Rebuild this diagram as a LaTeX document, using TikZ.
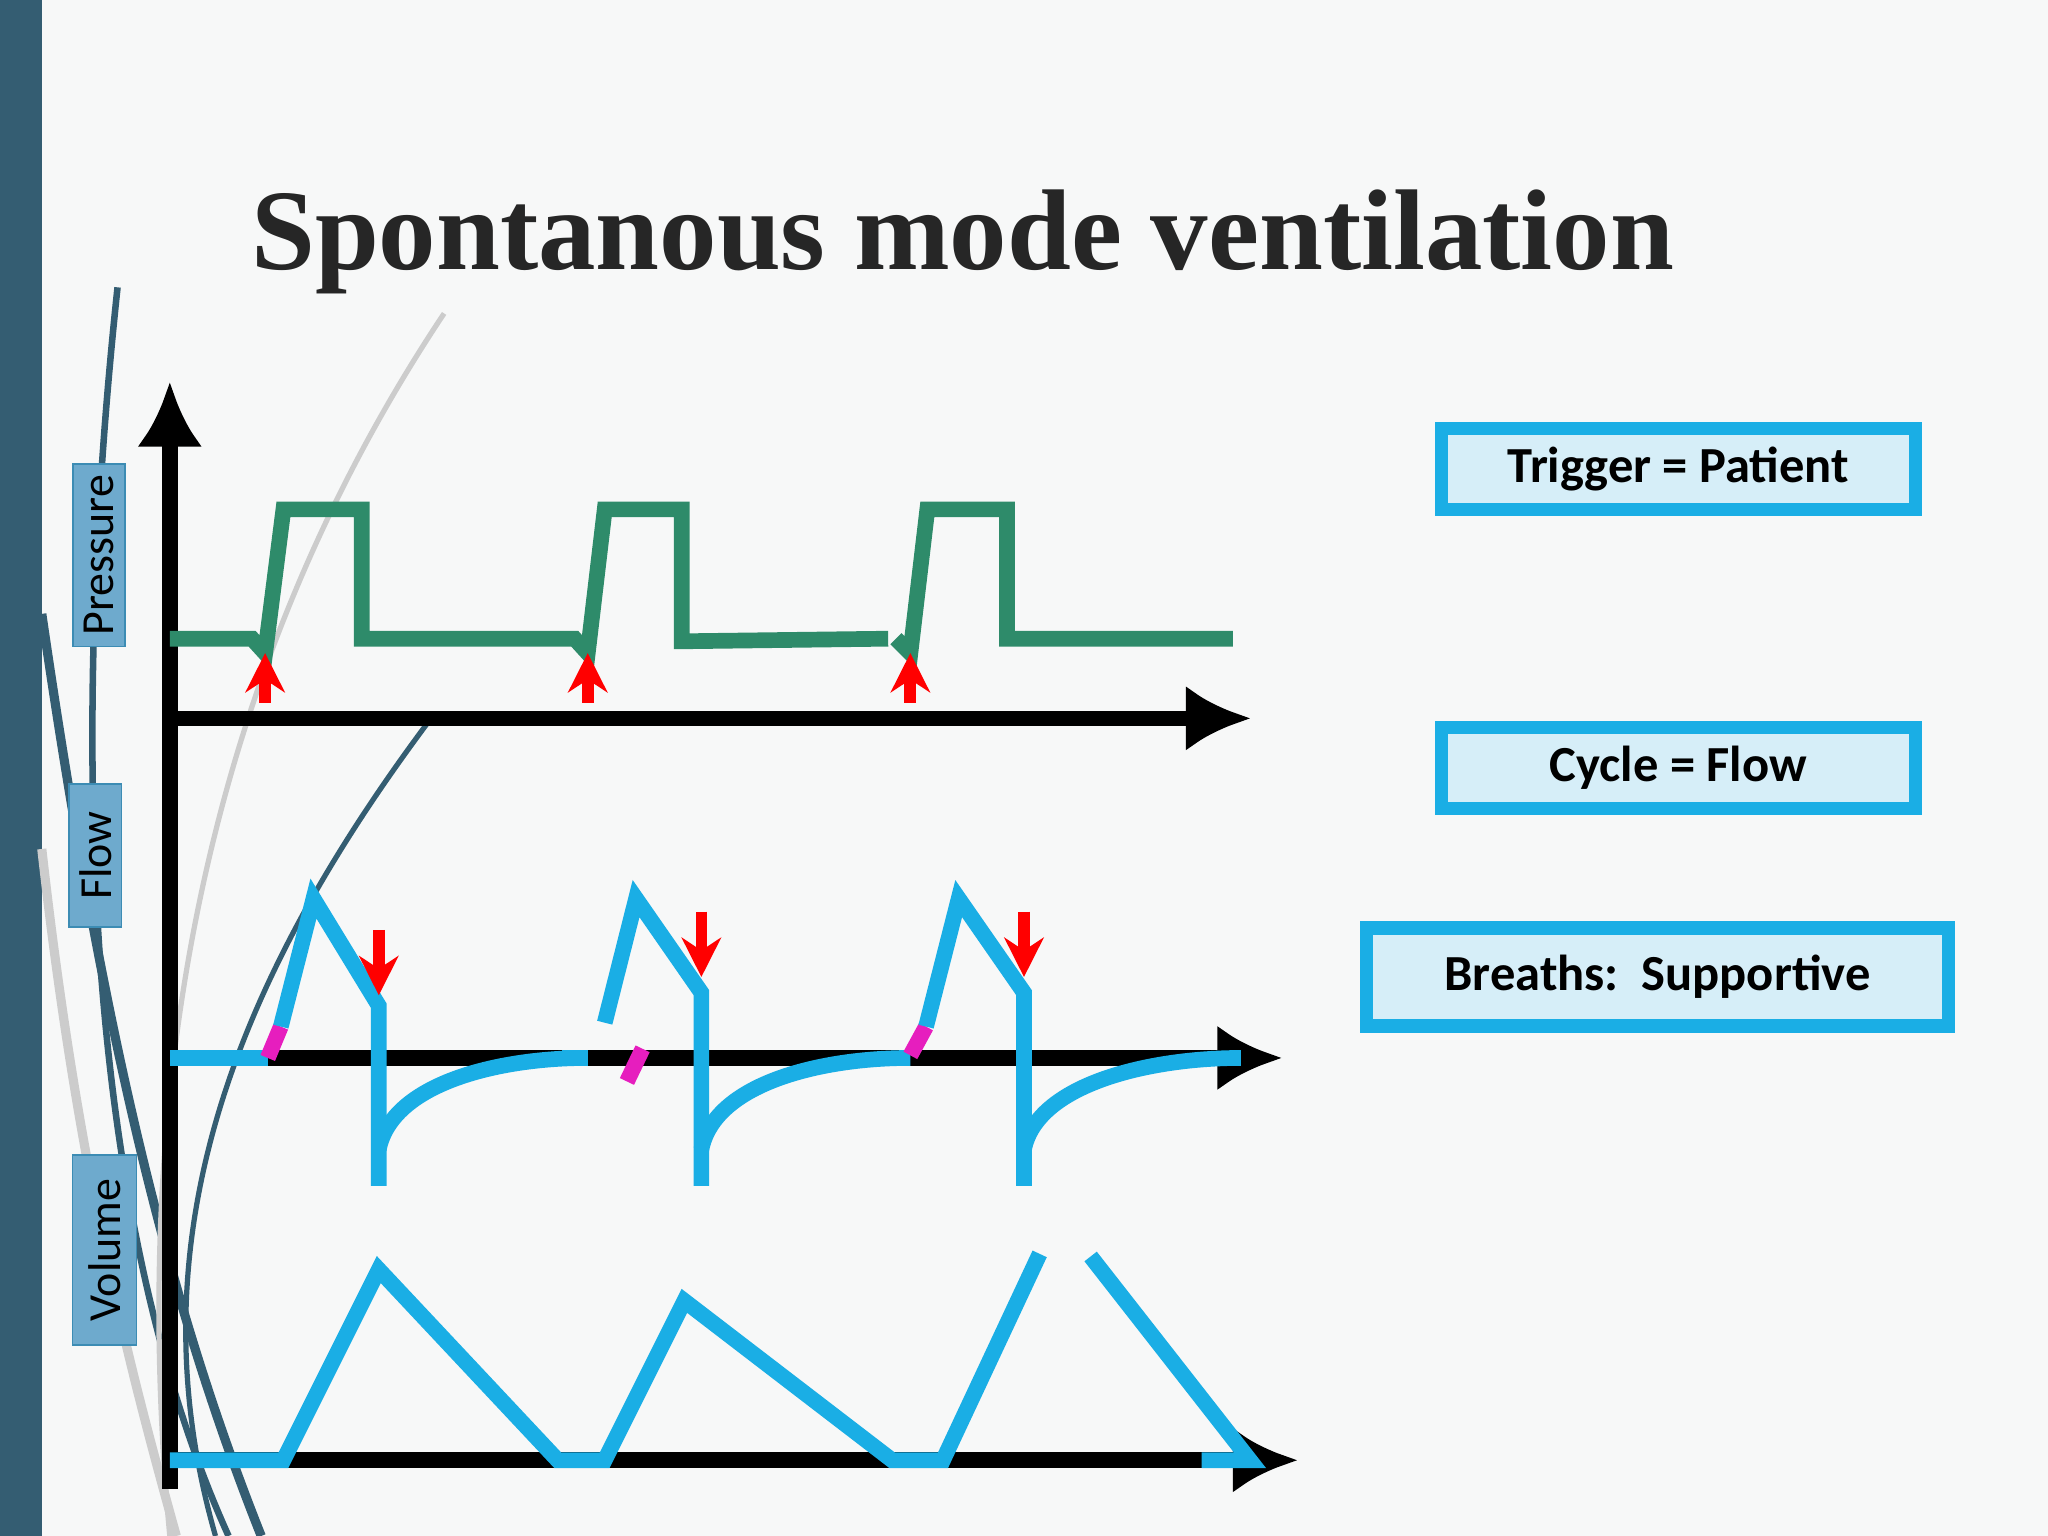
\documentclass[tikz,border=0pt]{standalone}
\usepackage{fontspec}
\setmainfont{Liberation Serif}
\newfontfamily\carl{Carlito}
\usetikzlibrary{arrows.meta}
\definecolor{bg}{RGB}{247,248,248}
\definecolor{teal}{RGB}{52,93,114}
\definecolor{grnc}{RGB}{46,139,106}
\definecolor{bluc}{RGB}{26,174,229}
\definecolor{magc}{RGB}{230,30,190}
\definecolor{lbld}{RGB}{60,140,180}
\definecolor{lblf}{RGB}{110,170,205}
\definecolor{boxf}{RGB}{214,238,248}
\definecolor{titc}{RGB}{38,38,38}
\begin{document}
\begin{tikzpicture}[x=0.01cm,y=-0.01cm,
 grn/.style={draw=grnc,line width=1.2mm,line join=miter},
 blu/.style={draw=bluc,line width=1.2mm},
 mag/.style={draw=magc,line width=1.2mm},
 redar/.style={draw=red,line width=0.9mm,-{Stealth[length=3mm,width=3mm]}},
 axis/.style={draw=black,line width=1.2mm,-{Latex[length=5mm,width=5mm]}},
 lbl/.style={draw=lbld,fill=lblf,rotate=90,font=\carl\fontsize{10}{10}\selectfont,inner sep=1pt,minimum height=0.4cm},
 box/.style={draw=bluc,fill=boxf,line width=1mm,font=\carl\bfseries\fontsize{11}{13}\selectfont,align=center}]
\fill[bg] (0,0) rectangle (1568,1176);
\useasboundingbox (0,0) rectangle (1568,1176);
\fill[teal] (0,0) rectangle (32,1176);
% decorative curves
\draw[teal,line width=0.5mm] (90,220) .. controls (60,500) and (50,900) .. (175,1176);
\draw[teal,line width=0.7mm] (32,470) .. controls (80,800) and (130,1000) .. (200,1176);
\draw[teal,line width=0.4mm] (330,550) .. controls (180,750) and (100,950) .. (165,1176);
\draw[gray!40,line width=0.4mm] (340,240) .. controls (200,450) and (90,750) .. (130,1176);
\draw[gray!40,line width=0.7mm] (32,650) .. controls (60,900) and (100,1050) .. (135,1176);
\node[font=\bfseries\fontsize{25}{30}\selectfont,text=titc] (title) at (737,185) {Spontanous mode ventilation};
% axes
\coordinate (o) at (130,1140);
\coordinate (ytop) at (130,292);
\draw[axis] (o) -- (ytop);
\draw[axis] (130,550) coordinate (pa) -- (958,550) coordinate (pb);
\draw[axis] (130,810) coordinate (fa) -- (982,810) coordinate (fb);
\draw[axis] (130,1118) coordinate (va) -- (994,1118) coordinate (vb);
% labels
\node[lbl,minimum width=1.4cm] (lp) at (76,425) {Pressure};
\node[lbl,minimum width=1.1cm] (lf) at (73,655) {Flow};
\node[lbl,minimum width=1.45cm,minimum height=0.49cm] (lv) at (80,957) {Volume};
% pressure
\draw[grn] (130,489)--(193,489)--(203,500)--(217,390)--(277,390)--(277,489)--(440,489)--(450,500)--(463,390)--(522,390)--(522,491)--(680,489);
\draw[grn] (686,489)--(697,500)--(710,390)--(771,390)--(771,489)--(944,489);
\foreach \x in {203,450,697} \draw[redar] (\x,538)--(\x,500);
% flow
\draw[blu] (130,810)--(205,810);
\draw[blu] (430,810)--(450,810);
\draw[mag] (205,810)--(215,786);
\draw[blu,line join=miter] (215,786)--(240,688)--(290,770)--(290,908);
\draw[blu] (290,880) .. controls (300,830) and (380,810) .. (450,810);
\draw[mag] (480,828)--(492,803);
\draw[blu,line join=miter] (463,783)--(487,688)--(537,760)--(537,908);
\draw[blu] (537,880) .. controls (547,830) and (627,810) .. (697,810);
\draw[mag] (697,808)--(709,786);
\draw[blu,line join=miter] (709,786)--(734,688)--(784,760)--(784,908);
\draw[blu] (784,880) .. controls (794,830) and (880,810) .. (950,810);
\foreach \x/\y in {290/712,537/698,784/698} \draw[redar] (\x,\y)--(\x,\y+50);
% volume
\draw[blu,line join=miter] (130,1118)--(217,1118)--(290,972)--(427,1118)--(463,1118)--(524,996)--(683,1118)--(722,1118)--(796,960);
\draw[blu,line join=miter] (835,962)--(957,1118)--(920,1118);
% boxes
\node[box,minimum width=3.63cm,minimum height=0.62cm] (trig) at (1285,359) {Trigger = Patient};
\node[box,minimum width=3.63cm,minimum height=0.62cm] (cyc) at (1285,588) {Cycle = Flow};
\node[box,minimum width=4.46cm,minimum height=0.75cm] (br) at (1269,748) {Breaths:\ \ Supportive};
\end{tikzpicture}
\end{document}
